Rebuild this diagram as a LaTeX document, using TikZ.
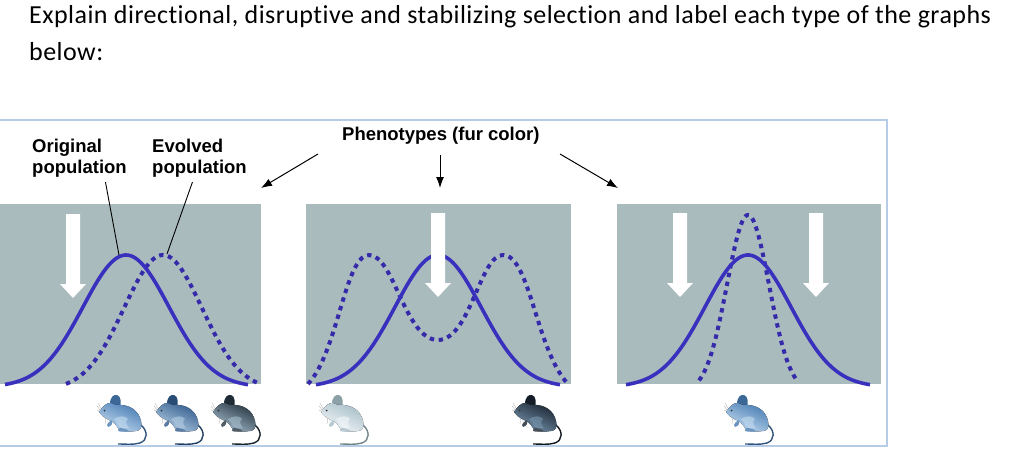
\documentclass[tikz,border=0pt]{standalone}
\usepackage{fontspec}
\setmainfont{Carlito}[LetterSpace=1.8,Ligatures=CommonOff]
\newfontfamily\labelfont{Liberation Sans}
\usetikzlibrary{arrows.meta}
\usetikzlibrary{calc}
\definecolor{panelgrey}{RGB}{170,187,190}
\definecolor{frameblue}{RGB}{181,203,230}
\definecolor{curveblue}{RGB}{58,48,190}
\definecolor{dotblue}{RGB}{52,42,170}
\definecolor{furmid}{RGB}{70,122,178}
\definecolor{furmidlow}{RGB}{196,220,240}
\definecolor{furdeep}{RGB}{48,90,140}
\definecolor{furdeeplow}{RGB}{180,206,228}
\definecolor{furgrey}{RGB}{36,50,62}
\definecolor{furgreylow}{RGB}{165,190,206}
\definecolor{furpale}{RGB}{165,188,198}
\definecolor{furpalelow}{RGB}{244,248,251}
\definecolor{furdark}{RGB}{24,34,46}
\definecolor{furdarklow}{RGB}{120,150,176}
\tikzset{> = latex,
	headline/.style={anchor=base west,inner sep=0pt,font=\fontsize{26}{26}\selectfont},
	poplabel/.style={anchor=base west,inner sep=0pt,font=\labelfont\bfseries\fontsize{18.5}{18.5}\selectfont},
	panelbox/.style={fill=panelgrey},
	solidcurve/.style={draw=curveblue,line width=3.6pt},
	dotcurve/.style={draw=dotblue,line width=4pt,dash pattern=on 4.4pt off 4.6pt},
	leader/.style={draw=black,line width=.9pt},
	phenoarrow/.style={draw=black,line width=1pt,->,>={Latex[length=11pt,width=8pt]}},
	pics/dropmark/.style={code={
		\fill[white] (-7,0)--(7,0)--(7,70)--(13,70)--(0,84)--(-13,70)--(-7,70)--cycle;
	}},
	pics/furmouse/.style 2 args={code={
		\draw[line width=1.4pt,draw=#1!70!black] (43,30) .. controls (50,36) and (50,45) .. (42,48) .. controls (35,50) and (28,49) .. (20,49);
		\draw[line width=.3pt,draw=gray!70] (4,15)--(0,8) (3,16)--(-1,11) (3,17)--(-1,15) (8,22)--(7,29) (10,23)--(10,29);
		\fill[#1!85!black] (12,9) .. controls (12,2) and (16,-1) .. (19,0) .. controls (23,1) and (24,8) .. (21,14) -- cycle;
		\fill[top color=#1,bottom color=#2,shading angle=-25] (1,17) .. controls (4,12) and (9,7) .. (13,8) .. controls (16,10) and (20,10) .. (24,10) .. controls (34,11) and (41,17) .. (43,26) .. controls (45,32) and (42,36) .. (38,36) .. controls (32,37) and (26,37) .. (21,35) .. controls (19,31) and (17,29) .. (15,27) .. controls (12,25) and (6,24) .. (1,17) -- cycle;
		\fill[#2,opacity=.6] (16,24) .. controls (21,21) and (27,20) .. (30,24) .. controls (27,26) and (28,30) .. (31,33) .. controls (27,34) and (23,33) .. (21,31) .. controls (20,28) and (18,26) .. (16,24) -- cycle;
		\fill[#1!80!white] (21,33) .. controls (24,33) and (29,34) .. (31,36) .. controls (27,37) and (23,37) .. (20,36) -- cycle;
		\fill[#1!80!white] (14,25) .. controls (15,28) and (14,31) .. (10,32) .. controls (8,31) and (9,29) .. (11,27) -- cycle;
		\fill[black!80] (6.5,15.5) circle (1pt);
	}}
}

\begin{document}
\begin{tikzpicture}[x=1pt,y=-1pt,
	declare function={bell(\t,\c,\s,\h,\o)=(\h+\o)*exp(-0.5*((\t-\c)/\s)^2)-\o;}]
		\useasboundingbox (0,0) rectangle (1024,457);
		\draw[draw=frameblue,line width=1.5pt] (0,120)--(887,120)--(887,446)--(0,446);
		\node[headline] (askOne) at (29,24) {Explain directional, disruptive and stabilizing selection and label each type of the graphs};
		\node[headline] (askTwo) at (29,61) {below:};
		% panels
		\fill[panelbox] (0,204) rectangle (261,384);
		\fill[panelbox] (306,204) rectangle (571,384);
		\fill[panelbox] (617,204) rectangle (881,384);
		% directional
		\draw[dotcurve] plot[domain=66:261,samples=90,smooth] (\x,{384-bell(\x,163,39,129,6)});
		\draw[solidcurve] plot[domain=5:248,samples=90,smooth] (\x,{384-bell(\x,126,43,129,3)});
		\pic (dropA) at (73,214) {dropmark};
		% disruptive
		\draw[dotcurve] (308,384) .. controls (338,352) and (345,255) .. (369,255) .. controls (394,255) and (405,340) .. (438,340) .. controls (470,340) and (480,255) .. (503,255) .. controls (530,255) and (536,350) .. (568,384);
		\draw[solidcurve] plot[domain=316:560,samples=90,smooth] (\x,{384-bell(\x,438,43,129,3)});
		\pic (dropB) at (438,213) {dropmark};
		% stabilizing
		\draw[dotcurve] plot[domain=699:798,samples=90,smooth] (\x,{384-bell(\x,748,21,169,8)});
		\draw[solidcurve] plot[domain=626:870,samples=90,smooth] (\x,{384-bell(\x,748,43,129,3)});
		\pic (dropC) at (680,213) {dropmark};
		\pic (dropD) at (816,213) {dropmark};
		% labels
		\node[poplabel] (origOne) at (32,153) {Original};
		\node[poplabel] (origTwo) at (32,174) {population};
		\node[poplabel] (evolOne) at (152,153) {Evolved};
		\node[poplabel] (evolTwo) at (152,174) {population};
		\node[poplabel] (phenoText) at (342,141) {Phenotypes (fur color)};
		\coordinate (origFoot) at (119,255);
		\coordinate (evolFoot) at (167,254);
		\coordinate (phenoL) at (318,154);
		\coordinate (phenoC) at (440,155);
		\coordinate (phenoR) at (560,154);
		\coordinate (tipL) at (261,188);
		\coordinate (tipC) at (440,188);
		\coordinate (tipR) at (618,188);
		\draw[leader] (origTwo.south)++(26,4) coordinate (origHead) -- (origFoot);
		\draw[leader] (evolTwo.south)++(-7,4) coordinate (evolHead) -- (evolFoot);
		\draw[phenoarrow] (phenoL)--(tipL);
		\draw[phenoarrow] (phenoC)--(tipC);
		\draw[phenoarrow] (phenoR)--(tipR);
		% mice
		\pic (mouseA) at (98,395) {furmouse={furmid}{furmidlow}};
		\pic (mouseB) at (155,395) {furmouse={furdeep}{furdeeplow}};
		\pic (mouseC) at (212,395) {furmouse={furgrey}{furgreylow}};
		\pic (mouseD) at (320,395) {furmouse={furpale}{furpalelow}};
		\pic (mouseE) at (513,395) {furmouse={furdark}{furdarklow}};
		\pic (mouseF) at (725,395) {furmouse={furmid}{furmidlow}};
		\end{tikzpicture}
\end{document}
